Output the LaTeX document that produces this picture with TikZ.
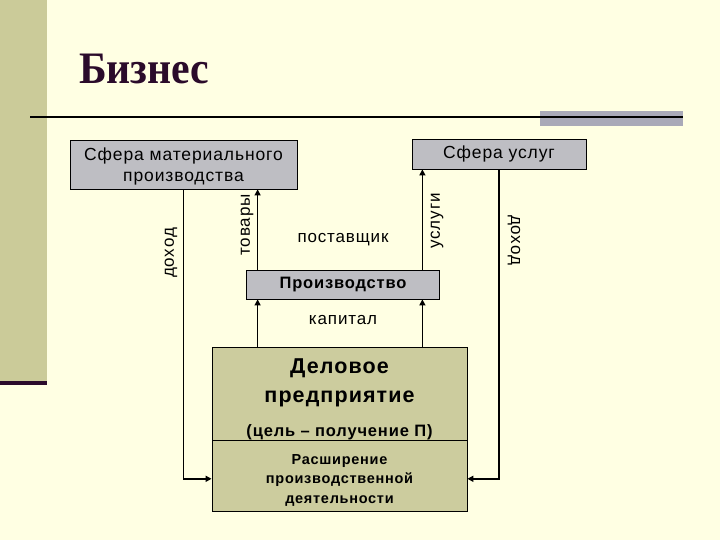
\documentclass[tikz,border=0pt]{standalone}
\usepackage{fontspec}
\setmainfont[LetterSpace=5]{Liberation Sans}
\newfontfamily\titlefont{Liberation Serif}
\usetikzlibrary{arrows.meta}
\definecolor{bgyellow}{HTML}{FFFFE3}
\definecolor{barolive}{HTML}{CBCB99}
\definecolor{titlepurple}{HTML}{2B0B2B}
\definecolor{boxgray}{HTML}{BEBEC3}
\definecolor{boxolive}{HTML}{CCCC9E}
\definecolor{rulegray}{HTML}{A9A9B8}
\begin{document}
\begin{tikzpicture}[x=1pt,y=-1pt,
	sphere/.style={draw=black,line width=0.8pt,fill=boxgray,align=center,inner sep=0pt,
		font=\fontsize{17.5}{21}\selectfont},
	boxtext/.style={align=center,inner sep=0pt},
	firm/.style={draw=black,line width=0.8pt,fill=boxolive,inner sep=0pt,
		minimum width=255},
	flow/.style={line width=1.4pt,-{Triangle[length=6pt,width=6pt]}},
	lbl/.style={inner sep=0pt,font=\fontsize{17}{18}\selectfont}]
	% slide background
	\fill[bgyellow] (0,0) rectangle (720,540);
	\fill[barolive] (0,0) rectangle (47,382);
	\fill[titlepurple] (0,381) rectangle (47,385);
	\fill[rulegray] (540,111) rectangle (683,126);
	\draw[line width=2pt,black] (30,117) -- (683,117);
	\node[anchor=base west,inner sep=0pt,text=titlepurple,
		font=\titlefont\bfseries\fontsize{45}{45}\selectfont] (title) at (79,84)
		{\scalebox{0.93}[1]{Бизнес}};
	% boxes
	\node[sphere,minimum width=227,minimum height=49] (mat) at (183.5,164.5) {};
	\node[boxtext,font=\fontsize{17.5}{21}\selectfont] (matTxt) at ([yshift=-2]mat.center)
		{Сфера материального\\производства};
	\node[sphere,minimum width=174,minimum height=30] (usl) at (499,154) {Сфера услуг};
	\node[sphere,minimum width=193,minimum height=29,
		font=\bfseries\fontsize{16.5}{18}\selectfont] (prod) at (343,284.5) {Производство};
	\node[firm,minimum height=93] (ent) at (339.5,393.5) {};
	\node[boxtext,font=\bfseries\fontsize{21.5}{29}\selectfont] (entTxt) at ([yshift=-6]ent.center)
		{Деловое\\предприятие\\[5pt]
		 \fontsize{16.5}{18}\selectfont (цель – получение П)};
	\node[firm,minimum height=71,anchor=north] (ext) at (ent.south) {};
	\node[boxtext,font=\bfseries\fontsize{14.5}{19.5}\selectfont] (extTxt) at ([yshift=-4]ext.center)
		{Расширение\\производственной\\деятельности};
	\coordinate (gL) at ([xshift=11.5]prod.north west);
	\coordinate (gR) at ([xshift=-17.5]prod.north east);
	% flows
	\draw[flow] (mat.south) |- ([yshift=-2.5]ext.west);
	\draw[flow] (usl.south) |- ([yshift=-2.5]ext.east);
	\draw[flow] (gL |- prod.north) -- (gL |- mat.south);
	\draw[flow] (gR |- prod.north) -- (gR |- usl.south);
	\draw[flow] (gL |- ent.north) -- (gL |- prod.south);
	\draw[flow] (gR |- ent.north) -- (gR |- prod.south);
	% labels
	\node[lbl,rotate=90] (incL) at (171,253) {доход};
	\node[lbl,rotate=90] (goods) at (247,225) {товары};
	\node[lbl] (supp) at (343,240) {поставщик};
	\node[lbl,rotate=90] (serv) at (437,221) {услуги};
	\node[lbl,rotate=-90] (incR) at (514,240) {доход};
	\node[lbl] (cap) at (343,320) {капитал};
\end{tikzpicture}
\end{document}
